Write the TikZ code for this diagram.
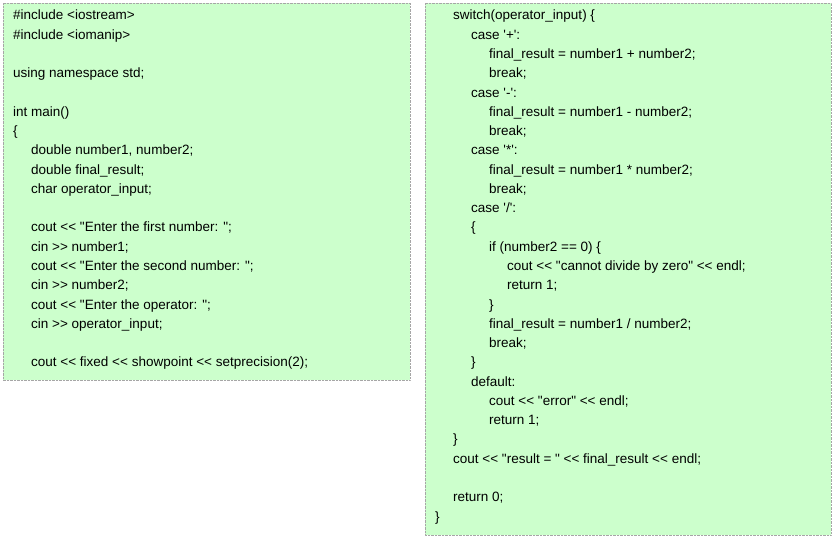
\documentclass[tikz,border=0pt]{standalone}
\usepackage{fontspec}
\setmainfont{Liberation Sans}[Ligatures=ResetAll]
\newcommand{\ia}{\hspace*{18pt}}
\newcommand{\ib}{\hspace*{36pt}}
\newcommand{\ic}{\hspace*{54pt}}
\newcommand{\id}{\hspace*{72pt}}
\newcommand{\LL}{\mbox{\textless}\mbox{\textless}}
\newcommand{\GG}{\mbox{\textgreater}\mbox{\textgreater}}
\newcommand{\Q}{\textquotedbl}
\newcommand{\q}{\textquotesingle}
\begin{document}
\begin{tikzpicture}[x=1pt,y=-1pt,
  box/.style={draw=gray!70, densely dotted, fill=green!20!white},
  code/.style={anchor=north west, inner sep=0pt, align=left, font=\fontsize{13.5}{19.27}\selectfont}]
\useasboundingbox (0,0) rectangle (836,539);
\path[box] (3,3) rectangle (410,380);
\path[box] (425,3) rectangle (831,535);
\node[code] (l) at (13,10) {\#include \textless iostream\textgreater\\\#include \textless iomanip\textgreater\\[19.27pt]using namespace std;\\[19.27pt]int main()\\\{\\
\ia double number1, number2;\\\ia double final\_result;\\\ia char operator\_input;\\[19.27pt]
\ia cout \LL{} \Q Enter the first number: \Q;\\\ia cin \GG{} number1;\\\ia cout \LL{} \Q Enter the second number: \Q;\\\ia cin \GG{} number2;\\\ia cout \LL{} \Q Enter the operator: \Q;\\\ia cin \GG{} operator\_input;\\[19.27pt]
\ia cout \LL{} fixed \LL{} showpoint \LL{} setprecision(2);};
\node[code] (r) at (435,10) {\ia switch(operator\_input) \{\\
\ib case \q+\q:\\\ic final\_result = number1 + number2;\\\ic break;\\
\ib case \q-\q:\\\ic final\_result = number1 - number2;\\\ic break;\\
\ib case \q*\q:\\\ic final\_result = number1 * number2;\\\ic break;\\
\ib case \q/\q:\\\ib \{\\\ic if (number2 == 0) \{\\\id cout \LL{} \Q cannot divide by zero\Q{} \LL{} endl;\\\id return 1;\\\ic \}\\
\ic final\_result = number1 / number2;\\\ic break;\\\ib \}\\
\ib default:\\\ic cout \LL{} \Q error\Q{} \LL{} endl;\\\ic return 1;\\\ia \}\\
\ia cout \LL{} \Q result = \Q{} \LL{} final\_result \LL{} endl;\\[19.27pt]\ia return 0;\\\}};
\end{tikzpicture}
\end{document}
